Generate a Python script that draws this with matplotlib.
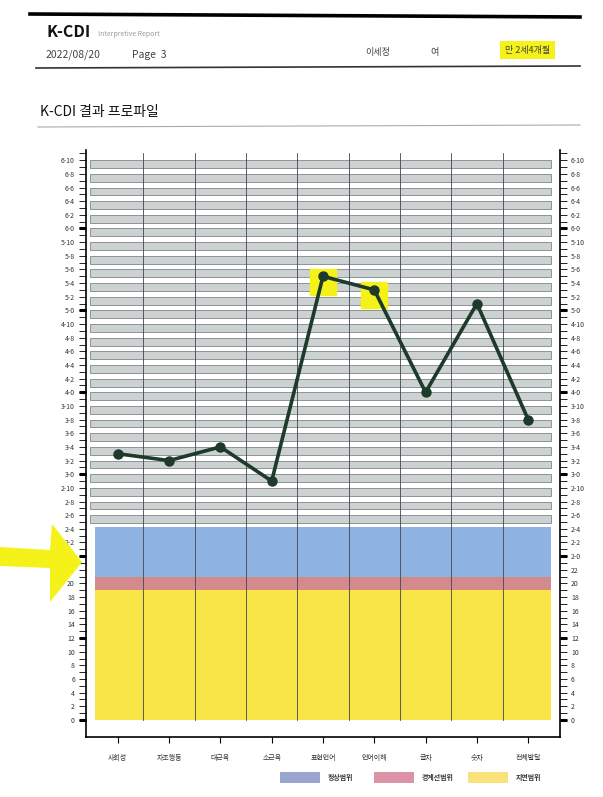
import matplotlib
matplotlib.use("Agg")
import matplotlib.pyplot as plt
from matplotlib.patches import Rectangle, Polygon
from matplotlib.lines import Line2D

plt.rcParams['font.family'] = ['Noto Sans CJK KR', 'DejaVu Sans']

# developmental age in months per domain
categories = ['사회성', '자조행동', '대근육', '소근육', '표현언어', '언어이해', '글자', '숫자', '전체발달']
age_months = [39, 38, 40, 35, 65, 63, 48, 61, 44]
highlighted = ['표현언어', '언어이해']

# range bands (months)
delay_range = (0, 19)
border_range = (19, 21)
normal_range = (21, 28.3)
gray_rows = list(range(30, 84, 2))

legend_labels = ['정상범위', '경계선범위', '지연범위']

c_normal = '#8fb3e3'
c_border = '#d48a8c'
c_delay = '#f9e547'
c_line = '#1e3a2b'


def month_label(m):
    if m < 24:
        return str(m)
    return f"{m // 12}-{m % 12}"


W, H = 603, 797
fig = plt.figure(figsize=(W / 100, H / 100), dpi=100)


def fx(px):
    return px / W


def fy(py):
    return 1 - py / H


ax = fig.add_axes([fx(86), fy(737), fx(560) - fx(86), fy(150) - fy(737)])
x = list(range(len(categories)))
x0, x1 = -0.45, len(categories) - 0.55

# colored ranges
for (lo, hi), col in [(delay_range, c_delay), (border_range, c_border), (normal_range, c_normal)]:
    ax.add_patch(Rectangle((x0, lo), x1 - x0, hi - lo, facecolor=col, edgecolor='none', zorder=1))

# gray rows
for v in gray_rows:
    ax.add_patch(Rectangle((x0 - 0.1, v - 1.15), x1 - x0 + 0.1, 1.15, facecolor='#ccd1d1',
                           edgecolor='#8e9393', linewidth=0.7, zorder=1))

# column separators
for i in range(len(categories) - 1):
    ax.plot([i + 0.5, i + 0.5], [0, 83], color='#3f4650', linewidth=0.6, zorder=2)

# highlighter marks
for c in highlighted:
    i = categories.index(c)
    ax.plot(i, age_months[i] - 0.8, marker='s', markersize=19, color='#f5f21a', zorder=3)

ax.plot(x, age_months, color=c_line, linewidth=2.6, marker='o', markersize=6.5, zorder=4)

ax.set_xlim(-0.62, len(categories) - 0.38)
ax.set_ylim(-2.5, 83.5)

ax.set_xticks(x)
ax.set_xticklabels(categories, fontsize=5, color='#333333')
ax.tick_params(axis='x', direction='out', length=4, width=0.8, pad=8)

major = list(range(0, 83, 2))
ax.set_yticks(major)
ax.set_yticklabels([month_label(m) for m in major], fontsize=5, color='#333333')
ax.set_yticks(list(range(0, 84)), minor=True)
ax.tick_params(axis='y', which='both', direction='out', length=5, width=0.6,
               left=True, right=True, labelleft=True, labelright=True, pad=3)

# thick year ticks, drawn outside the spines
ytr = ax.get_yaxis_transform()
for m in range(0, 83, 12):
    ax.plot([-0.014, 0], [m, m], color='black', linewidth=2.2, transform=ytr,
            clip_on=False, zorder=5, solid_capstyle='butt')
    ax.plot([1, 1.014], [m, m], color='black', linewidth=2.2, transform=ytr,
            clip_on=False, zorder=5, solid_capstyle='butt')

ax.spines['top'].set_visible(False)
for s in ['left', 'right', 'bottom']:
    ax.spines[s].set_linewidth(1.2)

# legend
for i, (lab, col) in enumerate(zip(legend_labels, ['#9aa6cf', '#dd93a6', '#f8e37a'])):
    left = 280 + i * 94
    fig.patches.append(Rectangle((fx(left), fy(783)), fx(40), fy(772) - fy(783),
                                 facecolor=col, edgecolor='none', transform=fig.transFigure))
    fig.text(fx(left + 48), fy(777.5), lab, fontsize=5, fontweight='bold', color='#333333', va='center')

# header
fig.add_artist(Line2D([fx(30), fx(580)], [fy(14), fy(17)], color='black', linewidth=2.6))
fig.text(fx(46), fy(32), 'K-CDI', fontsize=11.5, fontweight='bold', va='center', color='#111111')
fig.text(fx(98), fy(34), 'Interpretive Report', fontsize=5, va='center', color='#9a9a9a')
fig.text(fx(46), fy(55), '2022/08/20', fontsize=7.5, va='center', color='#444444')
fig.text(fx(132), fy(55), 'Page  3', fontsize=7.5, va='center', color='#444444')
fig.text(fx(365), fy(53), '이세정', fontsize=6.5, va='center', color='#444444')
fig.text(fx(430), fy(53), '여', fontsize=6.5, va='center', color='#444444')
fig.text(fx(505), fy(50), '만 2세4개월', fontsize=6.5, va='center', color='#444444',
         bbox=dict(boxstyle='square,pad=0.5', facecolor='#f5f21a', edgecolor='none'))
fig.add_artist(Line2D([fx(36), fx(580)], [fy(68), fy(66)], color='#333333', linewidth=1.2))
fig.text(fx(40), fy(112), 'K-CDI 결과 프로파일', fontsize=10, fontweight='medium', va='center',
         color='#111111')
fig.add_artist(Line2D([fx(38), fx(580)], [fy(127), fy(125)], color='#aaaaaa', linewidth=0.8))

# highlighter arrow on the left
arrow = [(0, 547), (50, 550), (52, 524), (82, 562), (50, 602), (50, 568), (0, 566)]
fig.patches.append(Polygon([(fx(a), fy(b)) for a, b in arrow], closed=True,
                           facecolor='#f5f21a', edgecolor='none', transform=fig.transFigure))

fig.savefig('out.png', dpi=100)
